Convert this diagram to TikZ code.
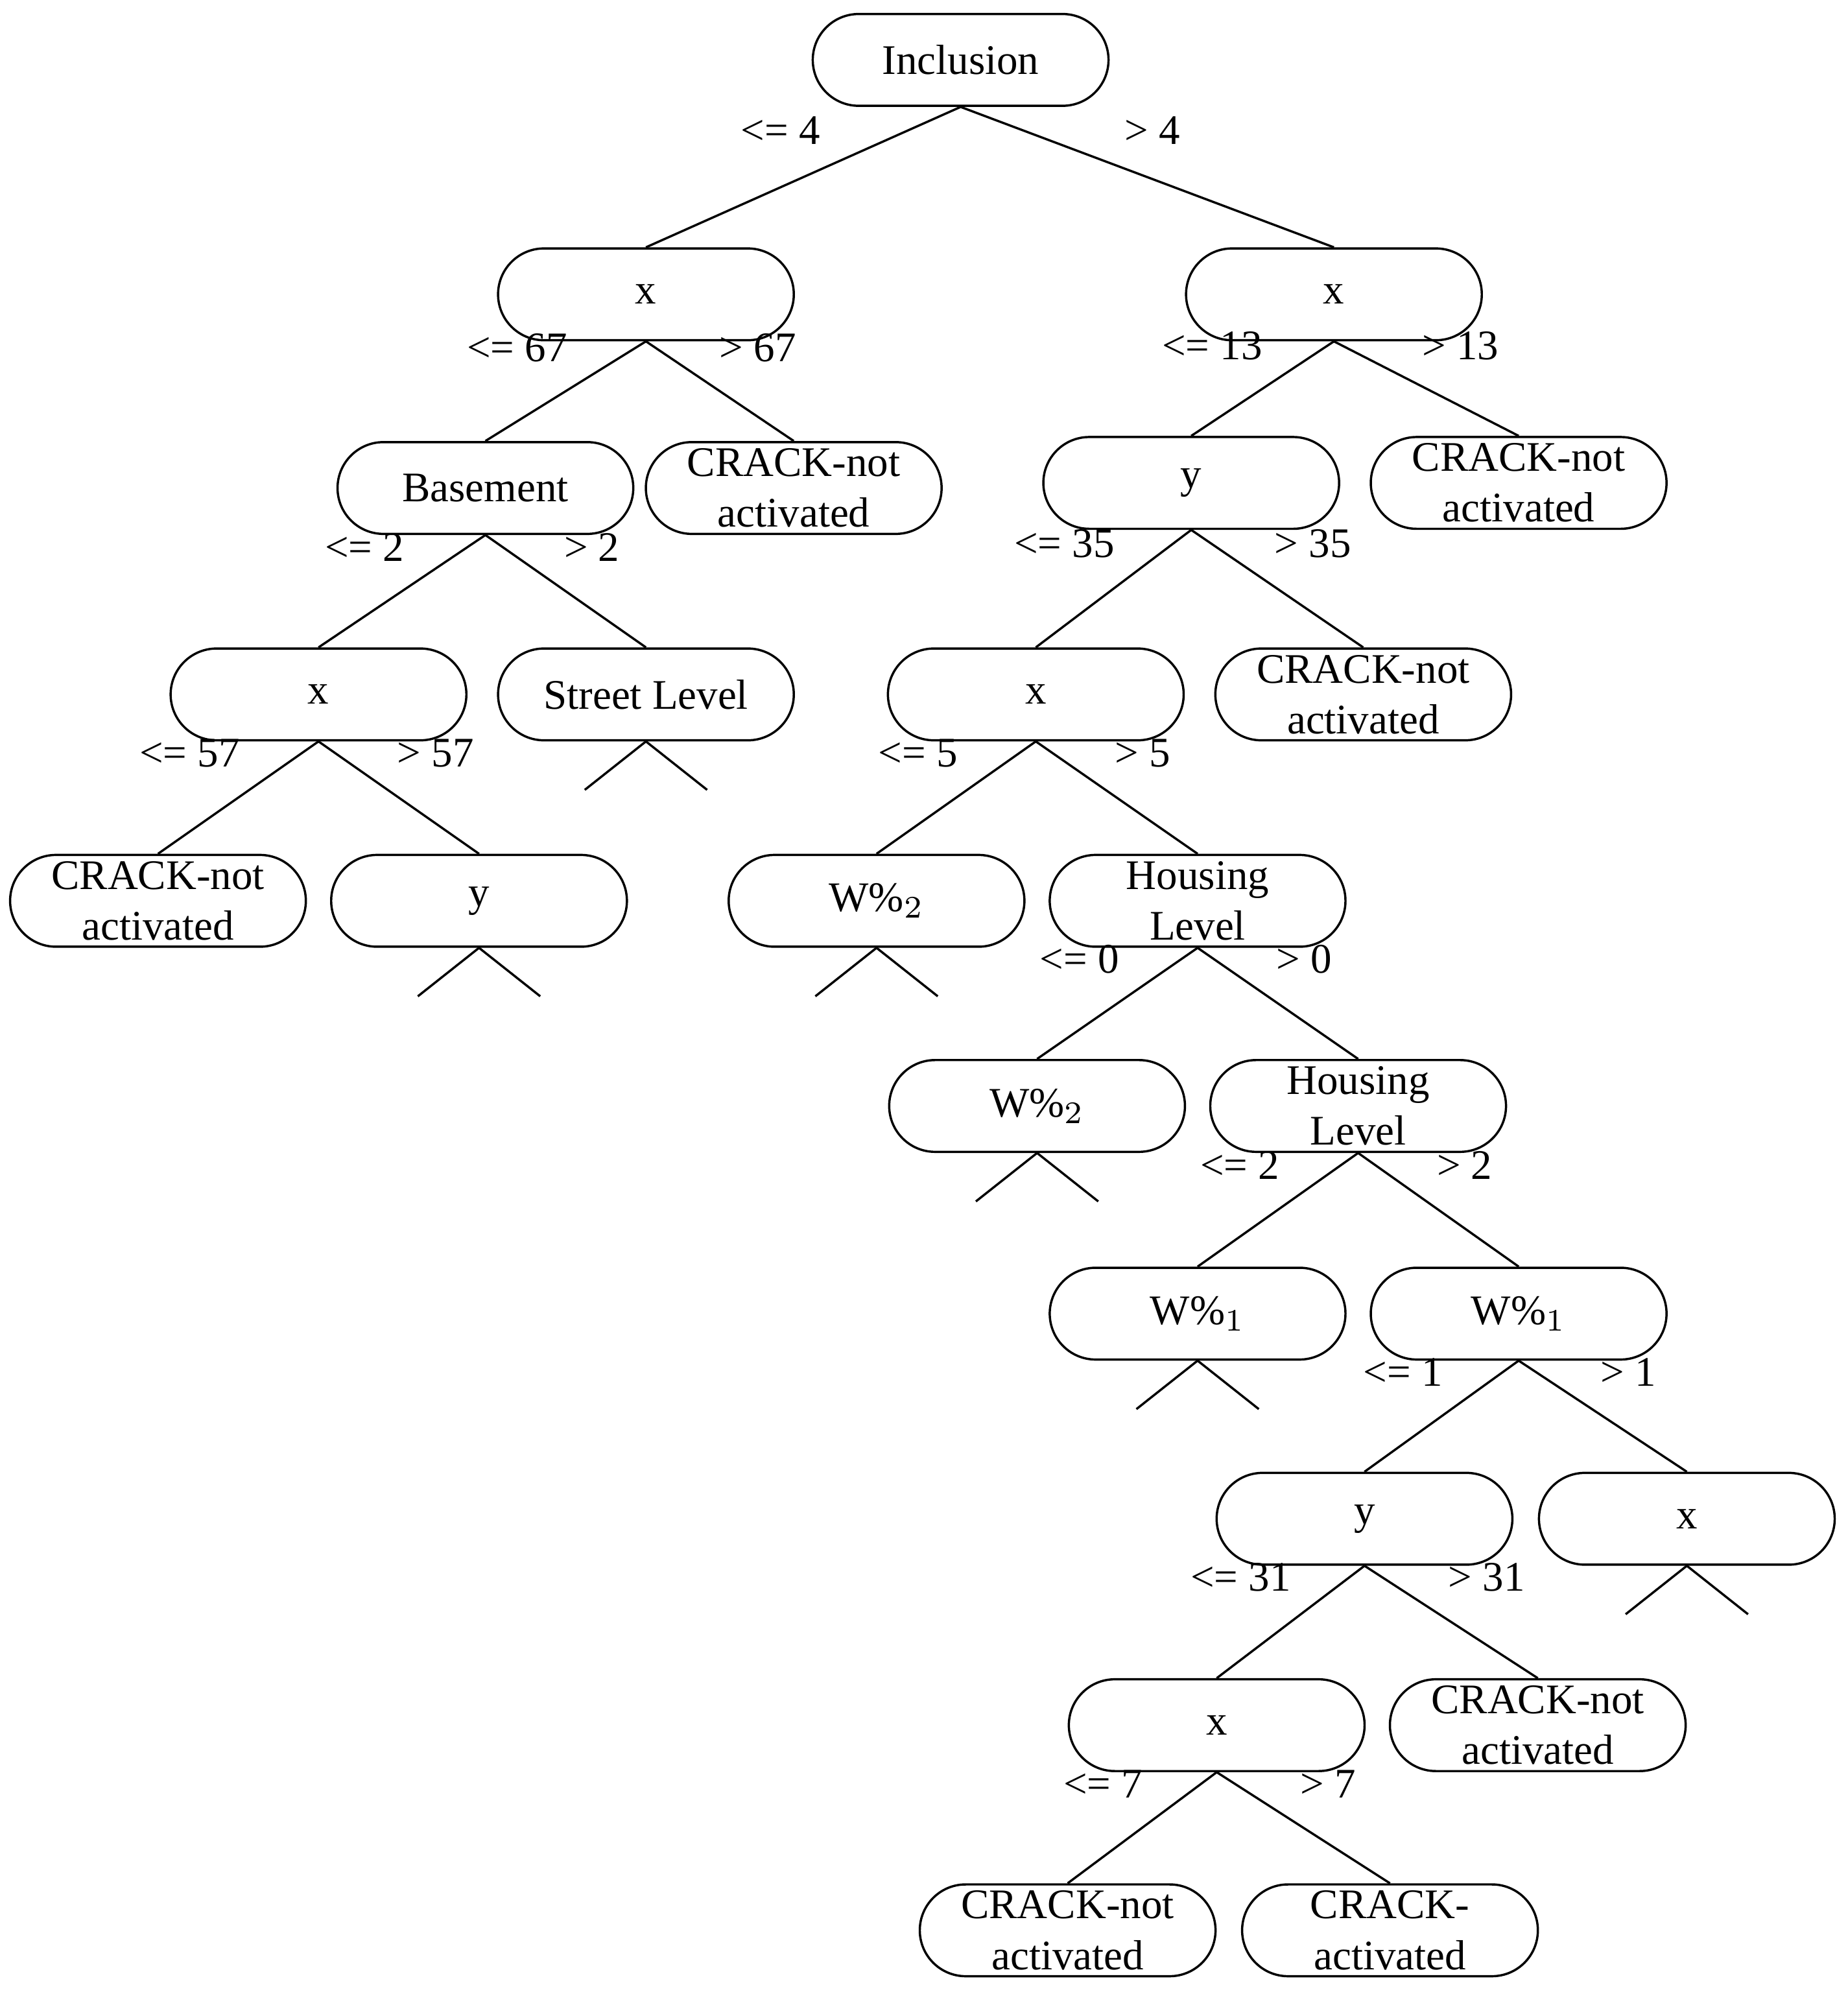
\documentclass[tikz,border=0pt]{standalone}
\usepackage{fontspec}
\setmainfont{Liberation Serif}
\begin{document}
\begin{tikzpicture}[x=0.01cm,y=-0.01cm,
  box/.style={draw,line width=0.5pt,rounded corners=0.36cm,minimum width=2.32cm,minimum height=0.72cm,inner sep=0pt,align=center,font=\fontsize{9.4}{11.3}\selectfont},
  lab/.style={font=\fontsize{9.4}{11}\selectfont,inner sep=1pt},
  every path/.style={line width=0.5pt}]
\useasboundingbox (0,0) rectangle (1450,1565);
\node[box] (inc) at (754,47) {Inclusion};
\node[box] (x1) at (507,231) {x};
\node[box] (x2) at (1047,231) {x};
\node[box] (bas) at (381,383) {Basement};
\node[box] (c1) at (623,383) {CRACK-not\\activated};
\node[box] (y1) at (935,379) {y};
\node[box] (c2) at (1192,379) {CRACK-not\\activated};
\node[box] (x3) at (250,545) {x};
\node[box] (st) at (507,545) {Street Level};
\node[box] (x4) at (813,545) {x};
\node[box] (c3) at (1070,545) {CRACK-not\\activated};
\node[box] (c4) at (124,707) {CRACK-not\\activated};
\node[box] (y2) at (376,707) {y};
\node[box] (w2a) at (688,707) {W\%$_2$};
\node[box] (h1) at (940,707) {Housing\\Level};
\node[box] (w2b) at (814,868) {W\%$_2$};
\node[box] (h2) at (1066,868) {Housing\\Level};
\node[box] (w1a) at (940,1031) {W\%$_1$};
\node[box] (w1b) at (1192,1031) {W\%$_1$};
\node[box] (y3) at (1071,1192) {y};
\node[box] (x5) at (1324,1192) {x};
\node[box] (x6) at (955,1354) {x};
\node[box] (c5) at (1207,1354) {CRACK-not\\activated};
\node[box] (c6) at (838,1515) {CRACK-not\\activated};
\node[box] (c7) at (1091,1515) {CRACK-\\activated};
\newcommand\tr[3]{\draw (#1.south) -- node[lab,anchor=south east,xshift=-2pt,yshift=3pt,pos=0.4] {#3} (#2.north);}
\newcommand\tl[3]{\draw (#1.south) -- node[lab,anchor=south west,xshift=2pt,yshift=3pt,pos=0.4] {#3} (#2.north);}
\tr{inc}{x1}{<= 4}\tl{inc}{x2}{> 4}
\tr{x1}{bas}{<= 67}\tl{x1}{c1}{> 67}
\tr{x2}{y1}{<= 13}\tl{x2}{c2}{> 13}
\tr{bas}{x3}{<= 2}\tl{bas}{st}{> 2}
\tr{y1}{x4}{<= 35}\tl{y1}{c3}{> 35}
\tr{x3}{c4}{<= 57}\tl{x3}{y2}{> 57}
\tr{x4}{w2a}{<= 5}\tl{x4}{h1}{> 5}
\tr{h1}{w2b}{<= 0}\tl{h1}{h2}{> 0}
\tr{h2}{w1a}{<= 2}\tl{h2}{w1b}{> 2}
\tr{w1b}{y3}{<= 1}\tl{w1b}{x5}{> 1}
\tr{y3}{x6}{<= 31}\tl{y3}{c5}{> 31}
\tr{x6}{c6}{<= 7}\tl{x6}{c7}{> 7}
\foreach \n in {st,y2,w2a,w2b,w1a,x5}{
  \draw ([xshift=-0.48cm,yshift=-0.38cm]\n.south) -- (\n.south) -- ([xshift=0.48cm,yshift=-0.38cm]\n.south);}
\end{tikzpicture}
\end{document}
